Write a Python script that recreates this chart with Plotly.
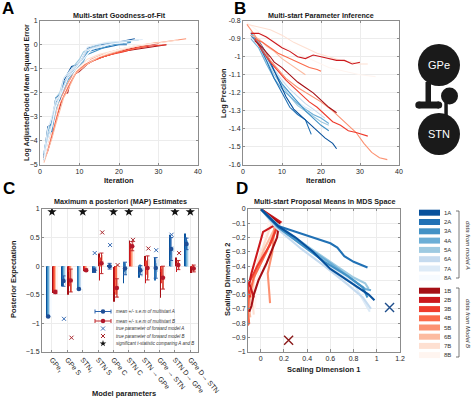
import plotly.graph_objects as go

W, H = 474, 399
def fx(p): return p / W
def fy(p): return 1 - p / H

FONT = "Liberation Sans, Arial, sans-serif"
BLUES = ['#08519c', '#2171b5', '#4292c6', '#6baed6', '#9ecae1', '#c6dbef', '#deebf7', '#f7fbff']
REDS = ['#a50f15', '#cb181d', '#ef3b2c', '#fb6a4a', '#fc9272', '#fcbba1', '#fee0d2', '#fff5f0']
RUNS_A = ['1A', '2A', '3A', '4A', '5A', '6A', '7A', '8A']
RUNS_B = ['1B', '2B', '3B', '4B', '5B', '6B', '7B', '8B']

# ---------------- Panel A: goodness of fit ----------------
gof_iter_A = [
    [1, 2, 3, 4, 5, 6, 8, 10, 12, 13, 15, 18, 20, 22, 24],
    [1, 2, 3, 4, 5, 6, 7, 9, 11, 12, 14, 17, 20, 22],
    [1, 2, 3, 4, 5, 6, 8, 10, 12, 15, 18, 21, 23],
    [1, 2, 3, 4, 5, 7, 9, 11, 12, 14, 17, 20, 23],
    [1, 2, 3, 4, 5, 6, 8, 10, 11, 13, 16, 19, 22, 25],
    [1, 2, 3, 4, 6, 7, 9, 11, 12, 15, 18, 21],
    [1, 2, 3, 4, 5, 6, 8, 10, 12, 14, 17, 20, 23, 26],
    [1, 2, 3, 4, 5, 7, 9, 11, 13, 16, 19, 22],
]
gof_val_A = [
    [-4.6, -3.4, -3.3, -2.2, -2.1, -1.5, -0.9, -0.8, -0.15, -0.1, 0.0, 0.05, 0.12, 0.2, 0.25],
    [-4.7, -3.7, -3.6, -2.5, -2.3, -1.6, -1.4, -1.0, -0.6, -0.3, -0.2, -0.1, 0.0, 0.0],
    [-4.5, -3.6, -3.2, -2.4, -2.2, -1.7, -1.2, -0.8, -0.4, -0.2, 0.0, 0.05, 0.1],
    [-4.8, -3.9, -3.5, -2.7, -2.2, -1.5, -1.0, -0.7, -0.3, -0.15, 0.0, 0.1, 0.15],
    [-4.6, -3.5, -3.4, -2.2, -2.0, -1.4, -1.0, -0.6, -0.3, -0.1, 0.05, 0.1, 0.15, 0.2],
    [-4.7, -3.8, -3.3, -2.5, -1.7, -1.3, -0.9, -0.5, -0.2, -0.05, 0.05, 0.1],
    [-4.5, -3.5, -3.0, -2.3, -2.1, -1.4, -1.0, -0.8, -0.1, 0.0, 0.1, 0.15, 0.2, 0.22],
    [-4.8, -4.0, -3.4, -2.6, -2.2, -1.4, -1.0, -0.6, -0.2, -0.05, 0.05, 0.1],
]
gof_iter_B = [
    [1, 2, 3, 4, 5, 6, 7, 8, 10, 12, 14, 17, 20, 24, 28, 32],
    [1, 2, 3, 4, 5, 6, 7, 9, 11, 13, 16, 19, 22, 26, 30],
    [1, 2, 3, 4, 5, 6, 8, 10, 12, 15, 18, 21, 24, 28, 32],
    [1, 2, 3, 4, 5, 7, 9, 11, 13, 16, 20, 24, 27],
    [1, 2, 3, 4, 5, 6, 8, 10, 13, 16, 20, 24, 28, 33, 37],
    [1, 2, 3, 4, 6, 7, 9, 12, 15, 18, 22, 26, 30],
    [1, 2, 3, 4, 5, 6, 8, 10, 12, 15, 19, 23, 27, 31, 35],
    [1, 2, 3, 4, 5, 7, 9, 11, 14, 17, 21, 25, 29],
]
gof_val_B = [
    [-4.7, -4.3, -3.5, -3.0, -2.6, -2.0, -2.0, -1.3, -1.1, -0.8, -0.6, -0.45, -0.3, -0.2, -0.1, 0.0],
    [-4.8, -4.4, -3.8, -3.1, -2.5, -2.1, -1.8, -1.2, -0.9, -0.7, -0.5, -0.35, -0.2, -0.05, 0.05],
    [-4.6, -4.2, -3.6, -2.9, -2.4, -2.0, -1.4, -1.0, -0.75, -0.55, -0.4, -0.3, -0.15, -0.05, 0.0],
    [-4.8, -4.3, -3.7, -3.2, -2.5, -1.8, -1.2, -0.9, -0.7, -0.5, -0.3, -0.15, -0.05],
    [-4.7, -4.1, -3.5, -2.8, -2.3, -1.9, -1.3, -1.0, -0.6, -0.4, -0.2, -0.05, 0.05, 0.15, 0.25],
    [-4.9, -4.4, -3.9, -3.3, -2.2, -1.9, -1.2, -0.8, -0.5, -0.35, -0.15, 0.0, 0.1],
    [-4.6, -4.0, -3.3, -2.7, -2.2, -1.8, -1.2, -0.9, -0.6, -0.4, -0.25, -0.1, 0.0, 0.1, 0.2],
    [-4.8, -4.2, -3.6, -3.0, -2.4, -1.7, -1.1, -0.8, -0.55, -0.35, -0.15, 0.0, 0.05],
]

# ---------------- Panel B: parameter precision ----------------
prec_iter_A = [
    [3, 4, 6, 8, 10, 11, 13, 15, 17, 19, 21, 23, 24],
    [2, 4, 6, 8, 10, 12, 14, 16, 17.5],
    [2, 4, 6, 8, 10, 12, 14, 16, 18, 20, 22],
    [2, 4, 6, 8, 10, 12, 14, 16, 18, 20, 22],
    [2, 4, 6, 8, 10, 12, 14, 16, 18, 20, 22],
    [2, 4, 6, 8, 10, 12, 14, 16, 18, 20, 21],
    [2, 4, 6, 8, 10, 12, 14, 16, 18],
    [2, 5, 8, 11, 14, 17, 20],
]
prec_val_A = [
    [-0.89, -0.91, -0.98, -1.08, -1.17, -1.22, -1.29, -1.33, -1.37, -1.41, -1.45, -1.48, -1.51],
    [-0.88, -0.93, -1.02, -1.12, -1.2, -1.28, -1.32, -1.35, -1.43],
    [-0.87, -0.92, -1.0, -1.08, -1.15, -1.2, -1.25, -1.3, -1.34, -1.38, -1.41],
    [-0.9, -0.95, -1.04, -1.12, -1.18, -1.22, -1.26, -1.29, -1.32, -1.34, -1.37],
    [-0.86, -0.92, -1.02, -1.1, -1.16, -1.22, -1.27, -1.3, -1.33, -1.36, -1.38],
    [-0.89, -0.93, -1.0, -1.07, -1.13, -1.18, -1.22, -1.26, -1.29, -1.32, -1.34],
    [-0.88, -0.94, -1.03, -1.1, -1.16, -1.21, -1.25, -1.28, -1.3],
    [-0.9, -0.98, -1.07, -1.14, -1.2, -1.25, -1.29],
]
prec_iter_B = [
    [3, 5, 7, 8, 10, 12, 14, 16, 18, 20, 22, 24],
    [2, 4, 6, 8, 10, 12, 14, 16, 18, 20, 22, 24, 26, 28, 30],
    [3, 5, 7, 9, 11, 13, 15, 17, 19, 21, 23, 25, 27, 29, 32],
    [3, 5, 7, 9, 11, 13, 15, 17, 19, 20],
    [1, 3, 5, 7, 9, 11, 14, 17, 20, 23, 26, 29, 31, 33, 35, 37],
    [2, 4, 6, 8, 10, 12, 14, 16],
    [1, 3, 5, 7, 10, 13, 16, 19, 22, 25, 28, 30, 32],
    [1, 4, 7, 10, 14, 18, 22, 26, 30, 34],
]
prec_val_B = [
    [-0.91, -0.95, -1.0, -1.03, -1.06, -1.1, -1.14, -1.17, -1.2, -1.24, -1.28, -1.31],
    [-0.87, -0.87, -0.89, -0.92, -0.95, -0.97, -1.0, -1.01, -0.99, -1.0, -1.01, -1.02, -1.02, -1.04, -1.03],
    [-0.9, -0.97, -1.03, -1.08, -1.13, -1.17, -1.21, -1.25, -1.28, -1.32, -1.36, -1.38, -1.41, -1.42, -1.44],
    [-0.9, -0.92, -0.95, -0.98, -1.0, -1.02, -1.04, -1.06, -1.07, -1.08],
    [-0.82, -0.88, -0.95, -1.02, -1.07, -1.12, -1.17, -1.21, -1.25, -1.3, -1.36, -1.42, -1.48, -1.53, -1.56, -1.57],
    [-0.88, -0.9, -0.94, -0.97, -1.01, -1.04, -1.07, -1.1],
    [-0.82, -0.83, -0.84, -0.85, -0.88, -0.92, -0.95, -0.98, -1.0, -1.02, -1.03, -1.04, -1.04],
    [-0.81, -0.86, -0.9, -0.94, -0.98, -1.02, -1.06, -1.08, -1.1, -1.11],
]

# ---------------- Panel C: MAP estimates ----------------
params = ['GPe<sub>τ</sub>', 'GPe S', 'STN<sub>τ</sub>', 'STN S', 'GPe C', 'STN C',
          'STN → GPe', 'GPe → STN', 'STN D→ GPe', 'GPe D→ STN']
map_A = [
    [-0.89, -0.88, -0.88, -0.87, -0.88, -0.88, -0.89, -0.88],
    [-0.35, -0.30, -0.15, -0.28, -0.20, -0.33, -0.25, -0.22],
    [-0.41, -0.40, -0.41, -0.42, -0.40, -0.41, -0.41, -0.40],
    [-0.12, -0.05, -0.02, -0.10, -0.08, -0.04, -0.09, -0.06],
    [0.02, -0.03, 0.05, -0.02, 0.01, 0.00, -0.04, 0.03],
    [-0.30, 0.07, -0.10, 0.05, -0.15, 0.00, -0.05, 0.05],
    [-0.20, -0.15, 0.03, -0.12, -0.05, -0.18, -0.08, -0.02],
    [0.15, -0.25, 0.10, -0.20, 0.05, -0.10, 0.12, -0.05],
    [0.55, 0.50, 0.20, 0.30, 0.15, 0.35, 0.10, 0.25],
    [0.57, 0.50, 0.30, 0.45, 0.28, 0.40, 0.35, 0.30],
]
map_B = [
    [-0.47, -0.45, -0.44, -0.43, -0.45, -0.46, -0.44, -0.45],
    [-0.50, -0.10, -0.35, -0.20, -0.45, -0.15, -0.30, -0.05],
    [-0.09, -0.07, -0.08, -0.06, -0.10, -0.08, -0.07, -0.09],
    [0.22, -0.25, 0.15, 0.05, -0.10, 0.20, 0.10, 0.00],
    [-0.62, -0.45, -0.20, -0.50, 0.02, -0.55, -0.40, -0.30],
    [0.45, 0.40, 0.30, 0.38, 0.32, 0.36, 0.42, 0.28],
    [0.18, -0.30, 0.10, -0.15, 0.05, -0.20, 0.12, -0.05],
    [-0.55, -0.10, -0.30, -0.05, -0.40, -0.20, -0.15, -0.25],
    [0.15, -0.10, 0.05, 0.00, 0.10, -0.05, 0.03, 0.02],
    [-0.12, -0.02, 0.03, -0.08, -0.05, 0.00, -0.10, -0.04],
]
mean_A = [-0.88, -0.26, -0.40, -0.07, 0.00, -0.04, -0.07, -0.03, 0.30, 0.39]
sem_A = [0.01, 0.09, 0.01, 0.04, 0.05, 0.11, 0.08, 0.18, 0.20, 0.10]
mean_B = [-0.45, -0.25, -0.07, 0.05, -0.38, 0.35, -0.03, -0.20, 0.02, -0.04]
sem_B = [0.03, 0.20, 0.02, 0.18, 0.16, 0.08, 0.21, 0.20, 0.08, 0.06]
true_A = [None, -0.92, None, 0.23, 0.37, None, None, 0.28, 0.55, None]
true_B = [None, -1.25, None, 0.59, 0.02, 0.46, 0.31, None, 0.23, None]
significant = [1, 0, 1, 0, 1, 1, 0, 0, 1, 1]
legend_C = ['mean +/- s.e.m of multistart A', 'mean +/- s.e.m of multistart B',
            'true parameter of forward model A', 'true parameter of forward model B',
            'significant t-statistic comparing A and B']

# ---------------- Panel D: MDS trajectories ----------------
mds_x_A = [
    [0, 0.15, 0.30, 0.45, 0.60, 0.75, 0.88, 0.93, 0.98],
    [0, 0.15, 0.30, 0.45, 0.60, 0.66, 0.72, 0.80, 0.90, 0.92],
    [0, 0.15, 0.35, 0.55, 0.75, 0.88, 0.92],
    [0, 0.14, 0.35, 0.60, 0.80, 0.90, 0.95],
    [0, 0.16, 0.40, 0.60, 0.80, 0.90, 0.93],
    [0, 0.13, 0.35, 0.55, 0.75, 0.88, 0.95],
    [0, 0.12, 0.35, 0.60, 0.80, 0.94],
    [0, 0.10, 0.30, 0.55, 0.80, 0.90],
]
mds_y_A = [
    [0, -0.12, -0.20, -0.30, -0.42, -0.50, -0.57, -0.60, -0.64],
    [0, -0.12, -0.16, -0.20, -0.24, -0.27, -0.33, -0.37, -0.40, -0.41],
    [0, -0.13, -0.25, -0.37, -0.47, -0.55, -0.62],
    [0, -0.12, -0.24, -0.38, -0.50, -0.56, -0.57],
    [0, -0.12, -0.26, -0.37, -0.48, -0.52, -0.56],
    [0, -0.13, -0.28, -0.40, -0.53, -0.62, -0.70],
    [0, -0.10, -0.25, -0.40, -0.52, -0.72],
    [0, -0.08, -0.20, -0.35, -0.50, -0.60],
]
mds_x_B = [
    [0, 0.16, 0.14, 0.05, -0.02, -0.06, -0.08, -0.10],
    [0, 0.17, 0.02, -0.03, -0.08, -0.10, -0.08, -0.06],
    [0, 0.15, 0.08, -0.03, -0.09, -0.11, -0.09],
    [0, 0.14, 0.05, -0.06, -0.10, -0.11, -0.10, -0.12],
    [0, 0.12, 0.10, 0.06, 0.07, 0.08, 0.08],
    [0, 0.13, 0.03, -0.05, -0.08, -0.10, -0.09],
    [0, 0.10, 0.05, -0.02, -0.06, -0.07, -0.06],
    [0, 0.08, 0.04, -0.01, -0.04, -0.05],
]
mds_y_B = [
    [0, -0.10, -0.20, -0.38, -0.50, -0.60, -0.68, -0.72],
    [0, -0.09, -0.16, -0.30, -0.45, -0.52, -0.58, -0.62],
    [0, -0.11, -0.25, -0.40, -0.50, -0.55, -0.62],
    [0, -0.12, -0.30, -0.48, -0.60, -0.72, -0.80, -0.82],
    [0, -0.10, -0.30, -0.45, -0.55, -0.62, -0.66],
    [0, -0.12, -0.28, -0.45, -0.58, -0.70, -0.76],
    [0, -0.08, -0.20, -0.35, -0.50, -0.66, -0.74],
    [0, -0.05, -0.20, -0.38, -0.55, -0.70],
]
true_mds_A = (1.11, -0.69)
true_mds_B = (0.24, -0.92)

fig = go.Figure()

# Panel A
for i in range(8):
    fig.add_trace(go.Scatter(x=gof_iter_B[i], y=gof_val_B[i], mode='lines',
                             line=dict(color=REDS[i], width=1.1), xaxis='x', yaxis='y'))
for i in range(8):
    fig.add_trace(go.Scatter(x=gof_iter_A[i], y=gof_val_A[i], mode='lines',
                             line=dict(color=BLUES[i], width=1.1), xaxis='x', yaxis='y'))
# Panel B
for i in range(7, -1, -1):
    fig.add_trace(go.Scatter(x=prec_iter_A[i], y=prec_val_A[i], mode='lines',
                             line=dict(color=BLUES[i], width=1.1), xaxis='x2', yaxis='y2'))
for i in range(7, -1, -1):
    fig.add_trace(go.Scatter(x=prec_iter_B[i], y=prec_val_B[i], mode='lines',
                             line=dict(color=REDS[i], width=1.1), xaxis='x2', yaxis='y2'))

# Panel C bars
groups = list(range(1, 11))
bw = 0.042
for i in range(8):
    fig.add_trace(go.Bar(x=[g - 0.36 + bw * (i + 0.5) for g in groups],
                         y=[row[i] for row in map_A], width=bw,
                         marker=dict(color=BLUES[i], line=dict(width=0)),
                         xaxis='x3', yaxis='y3'))
    fig.add_trace(go.Bar(x=[g + 0.03 + bw * (i + 0.5) for g in groups],
                         y=[row[i] for row in map_B], width=bw,
                         marker=dict(color=REDS[i], line=dict(width=0)),
                         xaxis='x3', yaxis='y3'))
fig.add_trace(go.Scatter(x=[g - 0.25 for g in groups], y=mean_A, mode='markers',
                         marker=dict(color='#1f4e96', size=4.5),
                         error_y=dict(type='data', array=sem_A, color='#2a62ad', thickness=1, width=2),
                         xaxis='x3', yaxis='y3'))
fig.add_trace(go.Scatter(x=[g + 0.22 for g in groups], y=mean_B, mode='markers',
                         marker=dict(color='#b2182b', size=4.5),
                         error_y=dict(type='data', array=sem_B, color='#c0282d', thickness=1, width=2),
                         xaxis='x3', yaxis='y3'))
fig.add_trace(go.Scatter(x=[g - 0.22 for g in groups], y=true_A, mode='markers',
                         marker=dict(symbol='x-thin', size=4, line=dict(color='#3a6db5', width=1)),
                         xaxis='x3', yaxis='y3'))
fig.add_trace(go.Scatter(x=[g + 0.27 for g in groups], y=true_B, mode='markers',
                         marker=dict(symbol='x-thin', size=4, line=dict(color='#a8262c', width=1)),
                         xaxis='x3', yaxis='y3'))
fig.add_trace(go.Scatter(x=[g for g, s in zip(groups, significant) if s],
                         y=[0.95 for s in significant if s], mode='markers',
                         marker=dict(symbol='star', size=7, color='#111111'),
                         xaxis='x3', yaxis='y3'))

# Panel C legend (symbols placed in axis coordinates)
C_X0, C_X1, C_PX0, C_PX1 = 0.35, 10.5, 42, 198
C_Y0, C_Y1, C_PY0, C_PY1 = 1.0, -1.5, 209, 352
def cx(p): return C_X0 + (p - C_PX0) * (C_X1 - C_X0) / (C_PX1 - C_PX0)
def cy(p): return C_Y0 + (p - C_PY0) * (C_Y1 - C_Y0) / (C_PY1 - C_PY0)
leg_rows = [311.5, 321, 328.5, 336, 343.5]
half = cx(111) - cx(103)
fig.add_trace(go.Scatter(x=[cx(103)], y=[cy(leg_rows[0])], mode='markers',
                         marker=dict(color='#1f4e96', size=4.5),
                         error_x=dict(type='data', array=[half], color='#2a62ad', thickness=1, width=2),
                         xaxis='x3', yaxis='y3'))
fig.add_trace(go.Scatter(x=[cx(103)], y=[cy(leg_rows[1])], mode='markers',
                         marker=dict(color='#b2182b', size=4.5),
                         error_x=dict(type='data', array=[half], color='#c0282d', thickness=1, width=2),
                         xaxis='x3', yaxis='y3'))
fig.add_trace(go.Scatter(x=[cx(103)], y=[cy(leg_rows[2])], mode='markers',
                         marker=dict(symbol='x-thin', size=4, line=dict(color='#3a6db5', width=1)),
                         xaxis='x3', yaxis='y3'))
fig.add_trace(go.Scatter(x=[cx(103)], y=[cy(leg_rows[3])], mode='markers',
                         marker=dict(symbol='x-thin', size=4, line=dict(color='#a8262c', width=1)),
                         xaxis='x3', yaxis='y3'))
fig.add_trace(go.Scatter(x=[cx(103)], y=[cy(leg_rows[4])], mode='markers',
                         marker=dict(symbol='star', size=5, color='#111111'),
                         xaxis='x3', yaxis='y3'))

# Panel D
for i in range(7, -1, -1):
    fig.add_trace(go.Scatter(x=mds_x_B[i], y=mds_y_B[i], mode='lines',
                             line=dict(color=REDS[i], width=2.1), xaxis='x4', yaxis='y4'))
for i in range(7, -1, -1):
    fig.add_trace(go.Scatter(x=mds_x_A[i], y=mds_y_A[i], mode='lines',
                             line=dict(color=BLUES[i], width=2.1), xaxis='x4', yaxis='y4'))
fig.add_trace(go.Scatter(x=[true_mds_A[0]], y=[true_mds_A[1]], mode='markers',
                         marker=dict(symbol='x-thin', size=9, line=dict(color='#1f4e8c', width=1.4)),
                         xaxis='x4', yaxis='y4'))
fig.add_trace(go.Scatter(x=[true_mds_B[0]], y=[true_mds_B[1]], mode='markers',
                         marker=dict(symbol='x-thin', size=9, line=dict(color='#8b1a1a', width=1.4)),
                         xaxis='x4', yaxis='y4'))

AX = dict(showline=True, linecolor='#8c8c8c', linewidth=0.8, mirror='ticks',
          ticks='inside', ticklen=2.5, tickcolor='#8c8c8c', tickwidth=0.8,
          showgrid=True, gridcolor='#ececec', gridwidth=0.8, zeroline=False,
          tickfont=dict(size=7, color='#262626', family=FONT), automargin=False)

fig.update_layout(
    width=W, height=H, margin=dict(l=0, r=0, t=0, b=0),
    paper_bgcolor='white', plot_bgcolor='white', showlegend=False,
    barmode='overlay', hovermode=False, font=dict(family=FONT),
    xaxis=dict(AX, domain=[fx(40), fx(198)], range=[0, 40], tickvals=[0, 10, 20, 30, 40], anchor='y'),
    yaxis=dict(AX, domain=[fy(165), fy(20.7)], range=[-5, 1], tickvals=[-5, -4, -3, -2, -1, 0, 1], anchor='x'),
    xaxis2=dict(AX, domain=[fx(243), fx(399)], range=[0, 40], tickvals=[0, 10, 20, 30, 40], anchor='y2'),
    yaxis2=dict(AX, domain=[fy(165), fy(20.7)], range=[-1.6, -0.8],
                tickvals=[-1.6, -1.5, -1.4, -1.3, -1.2, -1.1, -1, -0.9, -0.8],
                ticktext=['-1.6', '-1.5', '-1.4', '-1.3', '-1.2', '-1.1', '-1', '-0.9', '-0.8'], anchor='x2'),
    xaxis3=dict(AX, domain=[fx(C_PX0), fx(C_PX1)], range=[C_X0, C_X1], tickvals=groups,
                ticktext=params, tickangle=50, anchor='y3', mirror=True),
    yaxis3=dict(AX, domain=[fy(C_PY1), fy(C_PY0)], range=[-1.5, 1.0],
                tickvals=[-1.5, -1, -0.5, 0, 0.5, 1], anchor='x3', mirror=True),
    xaxis4=dict(AX, domain=[fx(248), fx(400)], range=[-0.11, 1.2],
                tickvals=[0, 0.2, 0.4, 0.6, 0.8, 1, 1.2], anchor='y4'),
    yaxis4=dict(AX, domain=[fy(351.7), fy(209)], range=[-1, 0],
                tickvals=[-1, -0.9, -0.8, -0.7, -0.6, -0.5, -0.4, -0.3, -0.2, -0.1, 0], anchor='x4'),
)

ann = []
def text(x, y, s, size, bold=False, italic=False, angle=0, color='#1a1a1a', xanchor='center'):
    if bold:
        s = '<b>' + s + '</b>'
    if italic:
        s = '<i>' + s + '</i>'
    ann.append(dict(x=fx(x), y=fy(y), xref='paper', yref='paper', text=s, showarrow=False,
                    textangle=angle, xanchor=xanchor, yanchor='middle',
                    font=dict(size=size, color=color, family=FONT)))

# panel letters
text(8, 9, 'A', 17, bold=True, color='black')
text(240, 9, 'B', 17, bold=True, color='black')
text(9, 189, 'C', 17, bold=True, color='black')
text(242, 189, 'D', 17, bold=True, color='black')
# titles
text(119, 15, 'Multi-start Goodness-of-Fit', 7.2, bold=True)
text(321, 15, 'Multi-start Parameter Inference', 7.2, bold=True)
text(120, 201, 'Maximum a posteriori (MAP) Estimates', 7.2, bold=True)
text(324, 201, 'Multi-start Proposal Means in MDS Space', 7.2, bold=True)
# axis titles
text(119, 180, 'Iteration', 7.5, bold=True)
text(321, 180, 'Iteration', 7.5, bold=True)
text(27, 93, 'Log AdjustedPooled Mean Squared Error', 7, bold=True, angle=-90)
text(224, 93, 'Log Precision', 7.5, bold=True, angle=-90)
text(13, 279, 'Posterior Expectation', 7.5, bold=True, angle=-90)
text(124, 393, 'Model parameters', 7.5, bold=True)
text(323, 369, 'Scaling Dimension 1', 7.5, bold=True)
text(227, 280, 'Scaling Dimension 2', 7.5, bold=True, angle=-90)
# panel C legend text
for r, s in zip(leg_rows, legend_C):
    text(114, r, s, 4.5, italic=True, color='#333333', xanchor='left')

shapes = []
# panel D side legend
for i in range(8):
    yc = 212.7 + i * 9.3
    shapes.append(dict(type='rect', xref='paper', yref='paper', x0=fx(419), x1=fx(440),
                       y0=fy(yc + 3), y1=fy(yc - 3), fillcolor=BLUES[i], line=dict(width=0)))
    text(442, yc, RUNS_A[i], 6, color='#333333', xanchor='left')
    yc = 290.7 + i * 9.2
    shapes.append(dict(type='rect', xref='paper', yref='paper', x0=fx(419), x1=fx(440),
                       y0=fy(yc + 3), y1=fy(yc - 3), fillcolor=REDS[i], line=dict(width=0)))
    text(442, yc, RUNS_B[i], 6, color='#333333', xanchor='left')
for (y0, y1) in [(211, 278), (288, 357)]:
    shapes.append(dict(type='path', xref='paper', yref='paper',
                       path=f'M {fx(456)} {fy(y0)} L {fx(459)} {fy(y0)} L {fx(459)} {fy(y1)} L {fx(456)} {fy(y1)}',
                       line=dict(color='#555555', width=0.8)))
text(468, 245, 'data from model A', 6, italic=True, angle=90, color='#333333')
text(468, 323, 'data from Model B', 6, italic=True, angle=90, color='#333333')

# schematic
def circ(cxp, cyp, r):
    shapes.append(dict(type='circle', xref='paper', yref='paper', x0=fx(cxp - r), x1=fx(cxp + r),
                       y0=fy(cyp + r), y1=fy(cyp - r), fillcolor='#1a1a1a', line=dict(width=0)))
def rect(x0, x1, y0, y1):
    shapes.append(dict(type='rect', xref='paper', yref='paper', x0=fx(x0), x1=fx(x1),
                       y0=fy(y1), y1=fy(y0), fillcolor='#1a1a1a', line=dict(width=0)))
circ(439, 65, 21)
circ(439, 134, 21)
circ(449.5, 96, 8.5)
rect(425.5, 431, 82, 105)
rect(418.5, 439, 101.5, 108.5)
circ(418.8, 105, 3.5)
circ(438.7, 105, 3.5)
rect(444.3, 447.8, 100, 115)
text(439, 65, 'GPe', 11, color='white')
text(439, 134, 'STN', 11, color='white')

fig.update_layout(annotations=ann, shapes=shapes)
fig.write_html("out.html", config={'displayModeBar': False},
               post_script="document.body.style.margin='0px';document.body.style.overflow='hidden';")
